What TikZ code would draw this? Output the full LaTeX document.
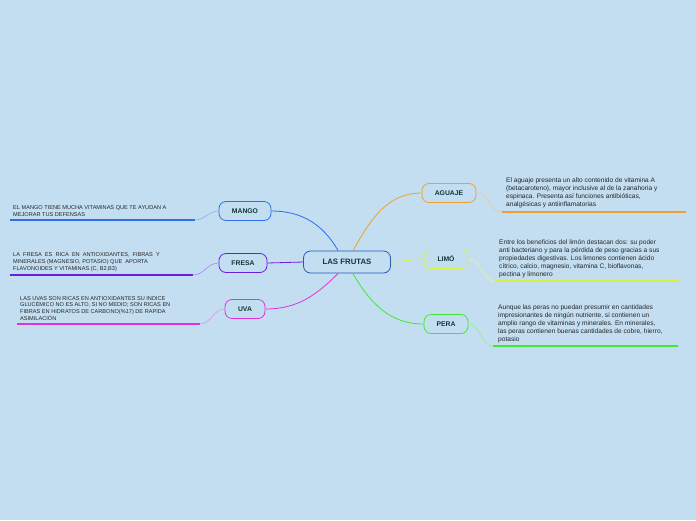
\documentclass[tikz,border=0pt]{standalone}
\usepackage{fontspec}
\setmainfont{Liberation Sans}
\begin{document}
\begin{tikzpicture}[x=1pt,y=-1pt,
  topic/.style={draw,rounded corners=7pt,fill=bgc,line width=0.8pt,font=\bfseries\fontsize{6.8}{7}\selectfont,text=tcol,minimum height=19pt,inner xsep=6pt},
  desc/.style={font=\fontsize{6.6}{8}\selectfont,align=left,anchor=south west,inner sep=1pt,text=black!85},
  ldesc/.style={font=\fontsize{5.6}{6.9}\selectfont,align=left,anchor=south west,inner sep=1pt,text=black!85},
  link/.style={line width=0.8pt}]
\definecolor{bgc}{HTML}{C3DEF0}
\definecolor{tcol}{HTML}{103838}
\definecolor{colM}{HTML}{2F6FE8}\definecolor{colF}{HTML}{6A1FE0}\definecolor{colU}{HTML}{E033E0}
\definecolor{colA}{HTML}{F0A030}\definecolor{colL}{HTML}{D8F040}\definecolor{colP}{HTML}{40E830}
\fill[bgc] (0,0) rectangle (696,520);
\useasboundingbox (0,0) rectangle (696,520);
\node[topic,draw=colM!80!black,fill=bgc,minimum width=87pt,minimum height=22pt,font=\bfseries\fontsize{7.8}{8}\selectfont] (c) at (347,262) {LAS FRUTAS};
\node[topic,draw=colM,minimum width=52pt] (m) at (245,211) {MANGO};
\node[topic,draw=colF,minimum width=48pt] (f) at (243,263) {FRESA};
\node[topic,draw=colU,minimum width=40pt] (u) at (245,309) {UVA};
\node[topic,draw=colA,minimum width=54pt] (a) at (449,193) {AGUAJE};
\node[topic,draw=colL,minimum width=44pt] (l) at (446,259) {LIMÓ};
\node[topic,draw=colP,minimum width=44pt] (p) at (446,324) {PERA};
% central links
\draw[link,colM] ([xshift=35pt]c.north west) to[out=120,in=0] (m.east);
\draw[link,colF] (c.west) to (f.east);
\draw[link,colU] ([xshift=35pt]c.south west) to[out=-135,in=0] (u.east);
\draw[link,colA] ([xshift=-38pt]c.north east) to[out=60,in=180] (a.west);
\draw[link,colL] (c.east) to[out=0,in=180] (l.west);
\draw[link,colP] ([xshift=-38pt]c.south east) to[out=-60,in=180] (p.west);
% underlines
\coordinate (me) at (195,220); \coordinate (ms) at (10,220);
\coordinate (fe) at (193,275); \coordinate (fs) at (10,275);
\coordinate (ue) at (200,324); \coordinate (us) at (17,324);
\coordinate (as) at (502,212); \coordinate (ae) at (686,212);
\coordinate (ls) at (495,281); \coordinate (le) at (679,281);
\coordinate (ps) at (493,346); \coordinate (pe) at (678,346);
\draw[colM,line width=1.5pt] (ms)--(me); \draw[colM!60,line width=0.5pt] (me) to[out=0,in=180] (m.west);
\draw[colF,line width=1.5pt] (fs)--(fe); \draw[colF!60,line width=0.5pt] (fe) to[out=0,in=180] (f.west);
\draw[colU,line width=1.5pt] (us)--(ue); \draw[colU!60,line width=0.5pt] (ue) to[out=0,in=180] (u.west);
\draw[colA,line width=1.5pt] (as)--(ae); \draw[colA!60,line width=0.5pt] (a.east) to[out=0,in=180] (as);
\draw[colL,line width=1.5pt] (ls)--(le); \draw[colL!60,line width=0.5pt] (l.east) to[out=0,in=180] (ls);
\draw[colP,line width=1.5pt] (ps)--(pe); \draw[colP!60,line width=0.5pt] (p.east) to[out=0,in=180] (ps);
% texts
\node[ldesc] (tm) at (12,218) {EL MANGO TIENE MUCHA VITAMINAS QUE TE AYUDAN A\\MEJORAR TUS DEFENSAS};
\node[ldesc] (tf) at (12,273) {LA\ \ FRESA\ \ ES\ \ RICA\ \ EN\ \ ANTIOXIDANTES,\ \ FIBRAS\ \ Y\\MINERALES (MAGNESIO, POTASIO) QUE\ \ APORTA\\FLAVONOIDES Y VITAMINAS (C, B2,B3)};
\node[ldesc] (tu) at (19,322) {LAS UVAS SON RICAS EN ANTIOXIDANTES SU INDICE\\GLUCÉMICO NO ES ALTO, SI NO MEDIO; SON RICAS EN\\FIBRAS EN HIDRATOS DE CARBONO(\%17) DE RAPIDA\\ASIMILACIÓN};
\node[desc] (ta) at (505,209) {El aguaje presenta un alto contenido de vitamina A\\(betacaroteno), mayor inclusive al de la zanahoria y\\espinaca. Presenta así funciones antibióticas,\\analgésicas y antiinflamatorias};
\node[desc] (tl) at (498,279) {Entre los beneficios del limón destacan dos: su poder\\anti bacteriano y para la pérdida de peso gracias a sus\\propiedades digestivas. Los limones contienen ácido\\cítrico, calcio, magnesio, vitamina C, bioflavonas,\\pectina y limonero};
\node[desc] (tp) at (497,344) {Aunque las peras no puedan presumir en cantidades\\impresionantes de ningún nutriente, si contienen un\\amplio rango de vitaminas y minerales. En minerales,\\las peras contienen buenas cantidades de cobre, hierro,\\potasio};
\end{tikzpicture}
\end{document}
